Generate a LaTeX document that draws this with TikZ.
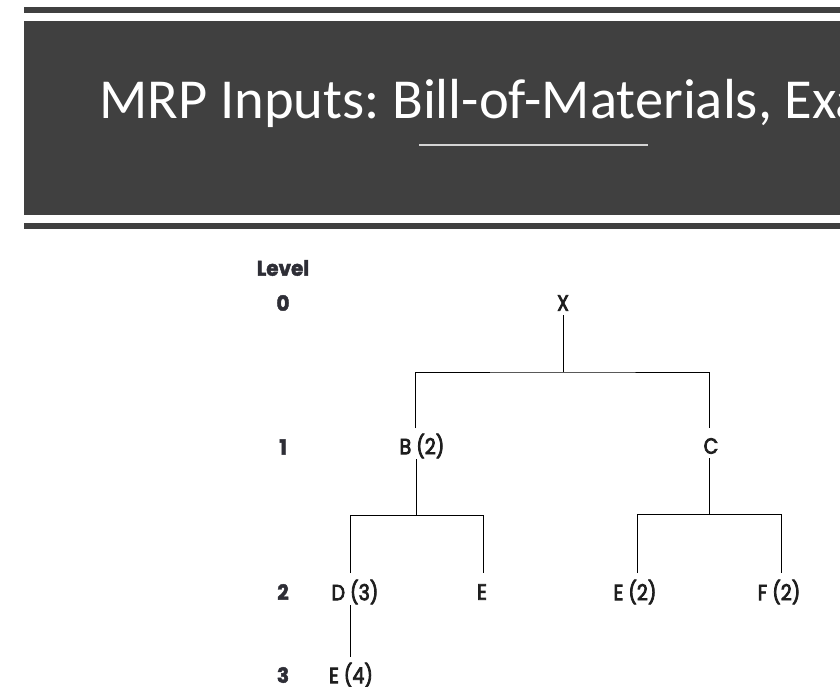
\documentclass[tikz,border=0pt]{standalone}
\usepackage{fontspec}
\setmainfont{Carlito}
\newfontfamily\treefont{Poppins}[FakeStretch=0.86,FakeBold=3.5]
\newfontfamily\levelfont{Poppins}[FakeStretch=0.95,BoldFeatures={FakeBold=2}]
\definecolor{banner}{HTML}{404040}
\definecolor{rulegray}{HTML}{D4D4D4}
\definecolor{inkdark}{HTML}{1E1E1E}
\definecolor{levelink}{HTML}{2E2E36}
\frenchspacing
\begin{document}
\begin{tikzpicture}[x=1pt,y=-1pt,
  item/.style={font=\treefont\fontsize{22}{22}\selectfont, text=inkdark, inner sep=0pt, anchor=center},
  lvl/.style={font=\levelfont\bfseries\fontsize{21}{21}\selectfont, text=levelink, inner sep=0pt, anchor=center},
  link/.style={draw=black, line width=1pt}]
\useasboundingbox (0,0) rectangle (840,686);
\fill[white] (0,0) rectangle (840,686);
% banner
\fill[banner] (24,7) rectangle (840,13);
\fill[banner] (24,21) rectangle (840,215);
\fill[banner] (24,223) rectangle (840,229);
\node[anchor=base west, inner sep=0pt, text=white, font=\fontsize{56.5}{56.5}\selectfont] (title) at (99,118) {MRP Inputs: Bill-of-Materials, Example};
\draw[rulegray, line width=2pt] (419,145) -- (648,145);
% level labels
\node[lvl] (lv) at (283,268) {Level};
\node[lvl] (l0) at (283,303) {0};
\node[lvl] (l1) at (283,447) {1};
\node[lvl] (l2) at (283,592) {2};
\node[lvl] (l3) at (283,675) {3};
% items
\node[item] (X) at (563,303) {X};
\node[item] (B) at (422,446) {B (2)};
\node[item] (C) at (711,446) {C};
\node[item] (D) at (355,592) {D (3)};
\node[item] (E) at (482,592) {E};
\node[item] (E2) at (635,592) {E (2)};
\node[item] (F2) at (779,592) {F (2)};
\node[item] (E4) at (351,675) {E (4)};
% connector end points
\coordinate (Xb) at (563,315);
\coordinate (j0) at (563,372);
\coordinate (Bt) at (415,428);
\coordinate (Ct) at (709,428);
\coordinate (Bb) at (416,459);
\coordinate (j1) at (416,515);
\coordinate (Cb) at (709,458);
\coordinate (j2) at (709,514);
\coordinate (Dt) at (350,573);
\coordinate (Et) at (483,573);
\coordinate (E2t) at (637,573);
\coordinate (F2t) at (781,573);
\coordinate (Db) at (350,605);
\coordinate (E4t) at (350,657);
% connectors
\draw[link] (Xb) -- (j0);
\draw[link] (Bt) |- (j0) -| (Ct);
\draw[link] (Bb) -- (j1);
\draw[link] (Dt) |- (j1) -| (Et);
\draw[link] (Cb) -- (j2);
\draw[link] (E2t) |- (j2) -| (F2t);
\draw[link] (Db) -- (E4t);
\end{tikzpicture}
\end{document}
